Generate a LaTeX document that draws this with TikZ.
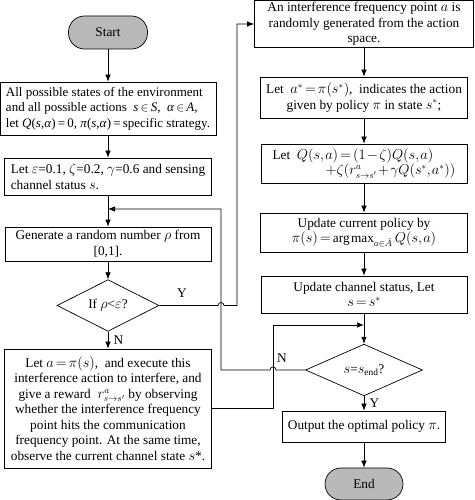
\documentclass[tikz,border=0pt]{standalone}
\usepackage{fontspec}
\setmainfont{Liberation Serif}
\usetikzlibrary{shapes.geometric,arrows.meta,calc}
\newcommand\tightmath{\medmuskip=1.5mu\relax\thickmuskip=2.5mu\relax\thinmuskip=1.5mu\relax}

\begin{document}
\begin{tikzpicture}[x=1pt,y=1pt,
    font=\fontsize{13.3}{15.5}\selectfont\tightmath,
    line width=0.7pt,
    >={Latex[length=7pt,width=5.5pt]},
    box/.style={draw,rectangle,inner sep=2pt,align=center},
    term/.style={draw,rectangle,rounded corners=16pt,fill=gray!55,minimum width=79pt,minimum height=33pt},
    decision/.style={draw,diamond,inner sep=0pt}]
    \useasboundingbox (0,0) rectangle (474,500);
    % left column
    \node[term] (start) at (108,467.5) {Start};
    \node[box,align=left,inner sep=1pt,minimum width=216pt,minimum height=53pt,
          font=\fontsize{13}{15.5}\selectfont\tightmath] (init) at (108,391.5)
        {All possible states of the environment\\
         and all possible actions \ \textit{s}\,$\in$\,\textit{S},\ \ \textit{α}\,$\in$\,\textit{A},\\
         let \textit{Q}(\textit{s},\textit{α})\,=\,0,\ \textit{π}(\textit{s},\textit{α})\,=\,specific strategy.};
    \node[box,align=left,minimum width=207pt,minimum height=37pt] (param) at (108,323.5)
        {Let $\varepsilon$=0.1,\ $\zeta$=0.2,\ $\gamma$=0.6 and sensing\\
         channel status $s$.};
    \node[box,minimum width=206pt,minimum height=34pt] (rand) at (108,256)
        {Generate a random number $\rho$ from\\{}[0,1].};
    \node[decision,minimum width=102pt,minimum height=35pt] (dec1) at (108,194.5) {If $\rho$<$\varepsilon$?};
    \node[box,minimum width=207pt,minimum height=119pt] (act) at (108,91.5)
        {Let $a=\pi(s)$,\ \ and execute this\\
         interference action to interfere, and\\
         give a reward \ $r^{a}_{s\to s'}$ by observing\\
         whether the interference frequency\\
         point hits the communication\\
         frequency point. At the same time,\\
         observe the current channel state $s$*.};
    % right column
    \node[box,minimum width=219pt,minimum height=44pt] (rgen) at (364,476)
        {An interference frequency point $a$ is\\
         randomly generated from the action\\
         space.};
    \node[box,minimum width=207pt,minimum height=41pt] (pol) at (364,402.5)
        {Let \ $a^{*}=\pi(s^{*})$,\ \ indicates the action\\
         given by policy $\pi$ in state $s^{*}$;};
    \node[box,align=left,minimum width=206pt,minimum height=39pt] (upd) at (364,336.5)
        {Let \ $Q(s,a)=(1-\zeta)Q(s,a)$\\
         \hspace*{4em}$+\zeta(r^{a}_{s\to s'}+\gamma Q(s^{*},a^{*}))$};
    \node[box,minimum width=207pt,minimum height=39pt] (policy) at (364,267.5)
        {Update current policy by\\
         $\pi(s)=\arg\max\nolimits_{a\in\hat{A}}\,Q(s,a)$};
    \node[box,minimum width=206pt,minimum height=37pt] (chan) at (364,205.5)
        {Update channel status, Let\\ $s=s^{*}$};
    \node[decision,minimum width=117pt,minimum height=46pt] (dec2) at (364,130) {$s$=$s_{\mathrm{end}}$?};
    \node[box,minimum width=163pt,minimum height=31pt] (out) at (364,73.5) {Output the optimal policy $\pi$.};
    \node[term,minimum width=78pt,minimum height=32pt] (end) at (364,16) {End};
    % corners of the loops
    \coordinate (loopx) at (221,291);
    \coordinate (yesx) at (237,0);
    \coordinate (actx) at (273,175);
    % straight arrows
    \draw[->] (start) -- (init);
    \draw[->] (init) -- (param);
    \draw[->] (param) -- (rand);
    \draw[->] (rand) -- (dec1);
    \draw[->] (dec1) -- node[right,xshift=2pt] {N} (act);
    \draw[->] (rgen) -- (pol);
    \draw[->] (pol) -- (upd);
    \draw[->] (upd) -- (policy);
    \draw[->] (policy) -- (chan);
    \draw[->] (chan) -- (dec2);
    \draw[->] (dec2) -- node[right,xshift=2pt] {Y} (out);
    \draw[->] (out) -- (end);
    % Y branch up to the random action
    \draw[->] (dec1.east) -- ($(dec1.east -| loopx)+(-3,0)$) arc[start angle=180,end angle=0,radius=3]
        -- (dec1.east -| yesx) |- (rgen.west);
    \node at (182,207) {Y};
    % action box back into the update path
    \draw[->] (act.east) -| (actx) -- (actx -| chan.south);
    % N branch back to the random number
    \draw[->] (dec2.west) -- ($(dec2.west -| actx)+(3,0)$) arc[start angle=0,end angle=180,radius=3]
        -- (dec2.west -| loopx) -- (loopx) -- (loopx -| rand.north);
    \node at (282,142) {N};
\end{tikzpicture}
\end{document}
